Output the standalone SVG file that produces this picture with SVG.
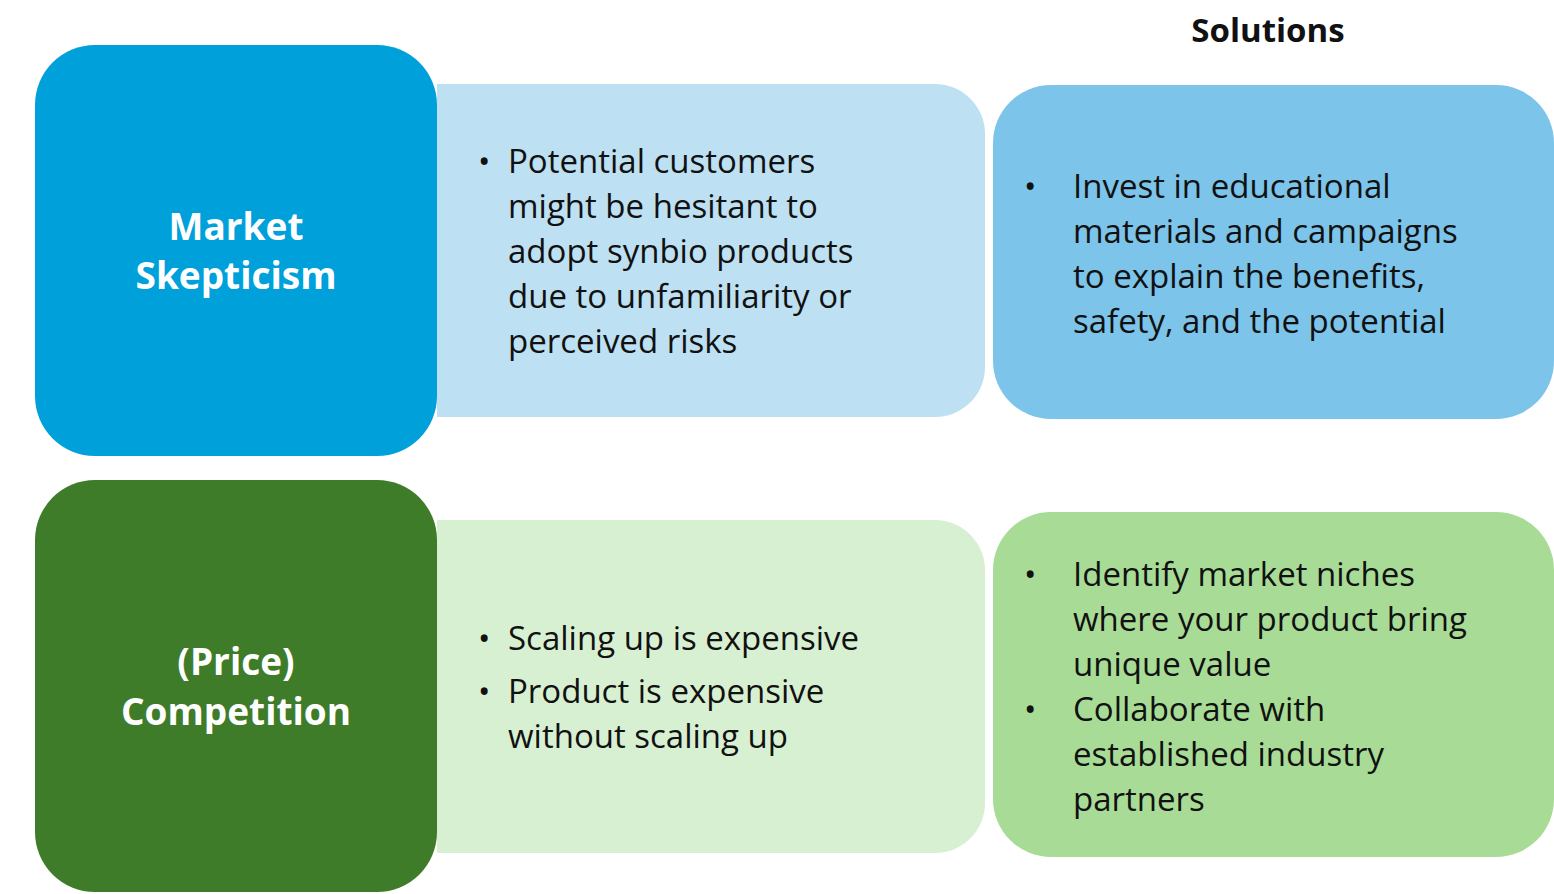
<svg xmlns="http://www.w3.org/2000/svg" width="1554" height="894" viewBox="0 0 1554 894">
<style>
.t{font-family:"Open Sans","Noto Sans",sans-serif;font-size:33px;fill:#111}
.h{font-family:"Open Sans","Noto Sans",sans-serif;font-size:37px;font-weight:bold;fill:#fff;text-anchor:middle}
</style>
<rect width="1554" height="894" fill="#fff"/>
<text x="1268" y="42" text-anchor="middle" style="font-family:'Open Sans','Noto Sans',sans-serif;font-size:33px;font-weight:bold;fill:#111">Solutions</text>
<g id="market">
<rect x="35" y="45" width="402" height="411" rx="60" fill="#00A0DA"/>
<text class="h" x="236" y="240">Market</text>
<text class="h" x="236" y="289">Skepticism</text>
</g>
<g id="problem1">
<path d="M437 84 H935 A50 50 0 0 1 985 134 V367 A50 50 0 0 1 935 417 H437 Z" fill="#BDE0F2"/>
<text class="t" x="478" y="173">•</text><text class="t" x="508" y="173">Potential customers</text>
<text class="t" x="508" y="218">might be hesitant to</text>
<text class="t" x="508" y="263">adopt synbio products</text>
<text class="t" x="508" y="308">due to unfamiliarity or</text>
<text class="t" x="508" y="353">perceived risks</text>
</g>
<g id="solution1">
<rect x="993" y="85" width="561" height="334" rx="58" fill="#7CC4E9"/>
<text class="t" x="1024" y="198">•</text><text class="t" x="1073" y="198">Invest in educational</text>
<text class="t" x="1073" y="243">materials and campaigns</text>
<text class="t" x="1073" y="288">to explain the benefits,</text>
<text class="t" x="1073" y="333">safety, and the potential</text>
</g>
<g id="price">
<rect x="35" y="480" width="402" height="412" rx="60" fill="#3E7C2A"/>
<text class="h" x="236" y="675">(Price)</text>
<text class="h" x="236" y="725">Competition</text>
</g>
<g id="problem2">
<path d="M437 520 H935 A50 50 0 0 1 985 570 V803 A50 50 0 0 1 935 853 H437 Z" fill="#D8F0D2"/>
<text class="t" x="478" y="650">•</text><text class="t" x="508" y="650">Scaling up is expensive</text>
<text class="t" x="478" y="703">•</text><text class="t" x="508" y="703">Product is expensive</text>
<text class="t" x="508" y="748">without scaling up</text>
</g>
<g id="solution2">
<rect x="993" y="512" width="561" height="345" rx="58" fill="#A8DC96"/>
<text class="t" x="1024" y="586">•</text><text class="t" x="1073" y="586">Identify market niches</text>
<text class="t" x="1073" y="631">where your product bring</text>
<text class="t" x="1073" y="676">unique value</text>
<text class="t" x="1024" y="721">•</text><text class="t" x="1073" y="721">Collaborate with</text>
<text class="t" x="1073" y="766">established industry</text>
<text class="t" x="1073" y="811">partners</text>
</g>
<g id="connectors"/>
</svg>
